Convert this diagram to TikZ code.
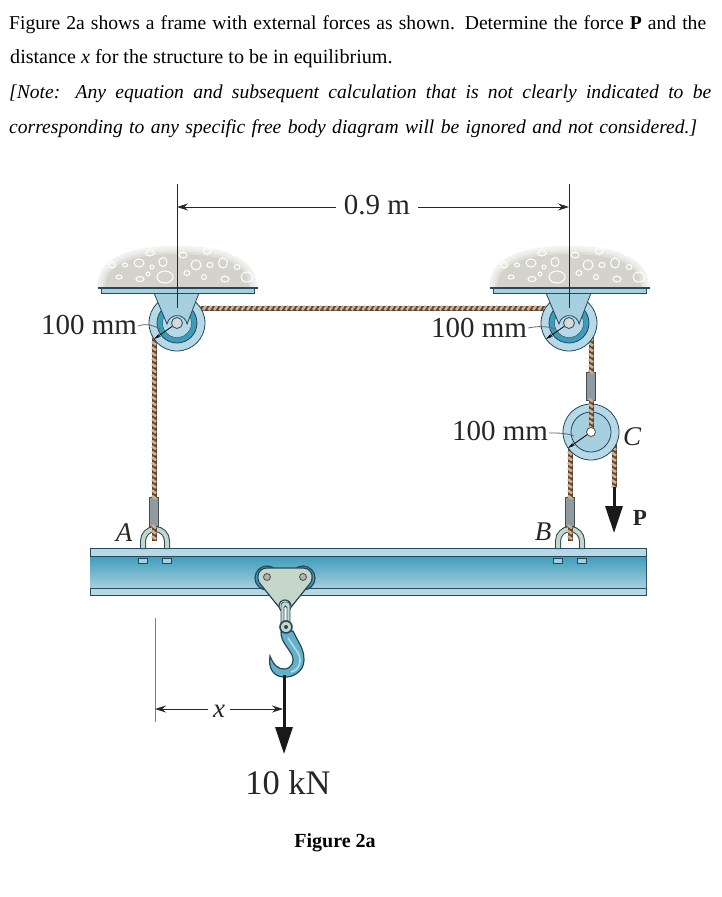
\documentclass[tikz,border=0pt]{standalone}
\usepackage{fontspec}
\setmainfont{Liberation Serif}
\usetikzlibrary{arrows.meta,decorations.markings}
\definecolor{ropetan}{HTML}{D2AE8C}
\definecolor{ropedark}{HTML}{5A4636}
\definecolor{steeldark}{HTML}{24495A}
\definecolor{steellight}{HTML}{B7D8E6}
\definecolor{steelmid}{HTML}{3E9CBB}
\definecolor{steelpale}{HTML}{A6CFDF}
\definecolor{gravel}{HTML}{D3D3CB}
\definecolor{plategreen}{HTML}{C6D6CB}
\definecolor{ferrulegray}{HTML}{8E9BA2}

\begin{document}
\begin{tikzpicture}
[x=1pt, y=-1pt,
bodytext/.style={anchor=west, inner sep=0, font=\fontsize{19.6}{21}\selectfont},
dimlabel/.style={inner sep=0, text=black!85, font=\fontsize{29}{30}\selectfont},
rope/.style={line width=5pt, draw=ropedark, postaction={decorate, decoration={markings, mark=between positions 0 and 1 step 5.5pt with {\draw[ropetan, line width=2.6pt] (-1.5pt,-2pt) -- (1.5pt,2pt);}}}},
wheel/.style={circle, draw=steeldark, thick, fill=steellight, minimum size=56pt, inner sep=0, outer sep=0},
groove/.style={circle, draw=steeldark, thick, fill=steelmid, minimum size=40pt, inner sep=0},
hub/.style={circle, draw=steeldark, thick, fill=black!15, minimum size=11pt, inner sep=0},
ferrule/.style={rectangle, draw=black!70, left color=ferrulegray, middle color=black!10, right color=ferrulegray, minimum width=9pt, minimum height=29pt, inner sep=0},
bolt/.style={rectangle, draw=steeldark, thick, fill=steelpale, minimum width=9pt, minimum height=5pt, inner sep=0},
pin/.style={circle, draw=black!70, fill=black!30, thick, minimum size=7pt, inner sep=0},
lobe/.style={circle, draw=steeldark, line width=1.2pt, fill=steelmid, minimum size=24pt, inner sep=0},
dimline/.style={draw=black!85, line width=0.8pt},
dimarrow/.style={-{Stealth[length=11pt, width=7pt]}, draw=black!85, line width=0.8pt},
leader/.style={draw=black!60, line width=0.8pt},
radial/.style={-{Stealth[length=7pt, width=3.5pt]}, draw=black, line width=0.8pt},
force/.style={-{Stealth[length=27pt, width=17pt, inset=0pt]}, draw=black!90, line width=3pt},
shackle/.style={draw=steeldark, line width=6pt},
shacklein/.style={draw=plategreen, line width=4pt}]

\useasboundingbox (0,0) rectangle (721,897);

\node[bodytext] (line1) at (9,24.5) {\makebox[697pt][s]{Figure 2a shows a frame with external forces as shown. Determine the force \textbf{P} and the}};
\node[bodytext, font=\fontsize{20.1}{21}\selectfont] (line2) at (10,58.5) {distance \textit{x} for the structure to be in equilibrium.};
\node[bodytext] (line3) at (9,93.5) {\makebox[702pt][s]{\textit{[Note: Any equation and subsequent calculation that is not clearly indicated to be}}};
\node[bodytext] (line4) at (9,128.5) {\makebox[688pt][s]{\textit{corresponding to any specific free body diagram will be ignored and not considered.]}}};

\coordinate (wheelAc) at (177,323);
\coordinate (wheelBc) at (569,323);
\coordinate (wheelCc) at (591,432);

\foreach \cx in {177,569}{
\fill[gravel] ({\cx-80},288) .. controls ({\cx-80},258) and ({\cx-50},246) .. (\cx,246) .. controls ({\cx+50},246) and ({\cx+80},258) .. ({\cx+80},288) -- cycle;
\foreach \lw in {16,11,7,3}
\draw[white, opacity=0.3, line width=\lw pt] ({\cx-80},288) .. controls ({\cx-80},258) and ({\cx-50},246) .. (\cx,246) .. controls ({\cx+50},246) and ({\cx+80},258) .. ({\cx+80},288);
\foreach \dx/\py/\rx/\ry in {-65/265/3.5/3,-52/265/2.5/2,-38/263/5/4,-25/267/2/2,-14/262/4/4.5,-12/277/8/6,-58/277/3/2,-37/279/4/2.5,-29/274/2/2,19/265/5/5,33/265/3/2.5,46/263/4.5/5,60/267/3/2.5,10/273/3/2.5,27/277/2.5/2.5,48/279/4/3,70/277/6/5,-27/253/4/3,6/255/4/3,30/251/4/3,58/253/4/3}
\draw[white, line width=1pt] ({\cx+\dx},\py) ellipse ({\rx} and {\ry});
}

\node[ferrule] (ferruleA) at (154,512) {};
\node[ferrule] (ferruleB) at (570,512) {};
\node[ferrule, minimum height=28pt] (ferruleC) at (591,386) {};

\draw[rope] (ferruleA.north) -- (ferruleA.north |- wheelAc);
\draw[rope] (177,308) -- (569,308);
\draw[rope] (ferruleC.north) -- (ferruleC.north |- wheelBc);
\draw[rope] (ferruleB.north) -- (ferruleB.north |- wheelCc);
\draw[rope] (614,432) -- (614,487) coordinate (forceP);

\foreach \cx/\nm in {177/A,569/B}{
\node[wheel] (wheel\nm) at (wheel\nm c) {};
\node[groove] (groove\nm) at (wheel\nm c) {};
\node[circle, draw=steeldark, fill=steellight, minimum size=29pt, inner sep=0] (inner\nm) at (wheel\nm c) {};
\draw[steeldark, fill=steelpale, thick] ({\cx-23},293) -- ({\cx-10},324) arc (190:350:10.2) -- ({\cx+22},293) -- cycle;
\node[hub] (hub\nm) at (wheel\nm c) {};
\draw[steeldark, fill=steeldark, thick] ({\cx-79},287) rectangle ({\cx+80},288.5);
\draw[steeldark, fill=steelpale, thick] ({\cx-76},288.5) rectangle ({\cx+77},293);
}
\node[wheel] (wheelC) at (wheelCc) {};
\node[circle, draw=steeldark, thick, fill=steelpale, minimum size=40pt, inner sep=0] (grooveC) at (wheelCc) {};
\draw[rope] (ferruleC.south) -- (wheelCc);
\node[circle, draw=ropedark, thick, fill=white, minimum size=9pt, inner sep=0] (hubC) at (wheelCc) {};

\draw[draw=steeldark, thick, fill=steellight] (90,548) rectangle (646,595);
\shade[top color=steelmid, bottom color=steelpale] (90,556) rectangle (646,588);
\draw[steeldark, thick] (90,556) -- (646,556);
\draw[steeldark, thick] (90,588) -- (646,588);

\foreach \sx/\nm in {155/A,570/B}{
\draw[shackle] ({\sx-12},549) -- ({\sx-12},541) arc (180:360:12) -- ({\sx+12},549);
\draw[shacklein] ({\sx-12},548) -- ({\sx-12},541) arc (180:360:12) -- ({\sx+12},548);
\draw[rope] (ferrule\nm.south) -- ++(0,14);
\node[bolt] (boltL\nm) at ({\sx-12},560.5) {};
\node[bolt] (boltR\nm) at ({\sx+12},560.5) {};
}

\node[lobe] (lobeL) at (267,578) {};
\node[lobe] (lobeR) at (303,578) {};
\draw[steeldark, line width=1.2pt, fill=plategreen] (267,568) -- (303,568) .. controls (313,568) and (315,580) .. (308,586) -- (292,606) .. controls (288,611) and (282,611) .. (278,606) -- (262,586) .. controls (255,580) and (257,568) .. (267,568) -- cycle;
\node[pin] (pinL) at (267,577) {};
\node[pin] (pinR) at (303,577) {};
\draw[steeldark, line width=1.2pt, fill=white] (285,606) circle (6);
\draw[steeldark, thick, fill=plategreen, rounded corners=3pt] (281,602) rectangle (290,628);
\draw[steeldark, thick, fill=white, rounded corners=1.5pt] (284,606) rectangle (287,625);
\draw[steeldark, line width=1.2pt, fill=steelmid!80] (293,631) .. controls (298,642) and (304,648) .. (304,660) .. controls (304,672) and (292,678) .. (283,677) .. controls (273,676) and (268,668) .. (270,656) .. controls (273,664) and (278,670) .. (285,669) .. controls (292,668) and (295,661) .. (292,655) .. controls (288,647) and (281,642) .. (281,632) -- cycle;
\draw[steellight, line width=1.6pt] (288,638) .. controls (294,648) and (301,654) .. (300,662) .. controls (299,668) and (295,671) .. (291,672);
\draw[steeldark, line width=1.6pt, fill=plategreen] (286,627) circle (6);
\node[circle, fill=steeldark, minimum size=4pt, inner sep=0] (eye) at (286,627) {};

\coordinate (loadTop) at (284,675);
\coordinate (loadTip) at (284,754);
\draw[force] (loadTop) -- (loadTip);
\draw[force] (forceP) -- (614,533);

\coordinate (dimAtop) at (177,184);
\coordinate (dimAbot) at (177,308);
\coordinate (dimBtop) at (569,184);
\coordinate (dimBbot) at (569,308);
\draw[dimline] (dimAtop) -- (dimAbot);
\draw[dimline] (dimBtop) -- (dimBbot);
\node[dimlabel] (span) at (377,205) {0.9 m};
\draw[dimarrow] (span.west) ++(-8,2) -- (177,207);
\draw[dimarrow] (span.east) ++(8,2) -- (569,207);

\coordinate (xTop) at (155,618);
\coordinate (xBot) at (155,722);
\draw[draw=black!50, line width=0.9pt] (xTop) -- (xBot);
\node[inner sep=0, font=\fontsize{27}{27}\selectfont\itshape, text=black!85] (xlabel) at (219,711) {x};
\draw[dimarrow] (xlabel.west) ++(-5,-2) -- (155,709);
\draw[dimarrow] (xlabel.east) ++(5,-2) -- (283,709);

\node[dimlabel] (radiusA) at (89,325) {100 mm};
\node[dimlabel] (radiusB) at (479,328) {100 mm};
\node[dimlabel] (radiusC) at (500,431) {100 mm};
\draw[leader] (radiusA.east) ++(1,1) .. controls (147,323) and (152,325) .. (160,329);
\draw[leader] (radiusB.east) ++(1,0) .. controls (538,326) and (546,326) .. (556,329);
\draw[leader] (radiusC.east) ++(1,2) .. controls (560,433) and (566,433) .. (574,436);
\draw[radial] (hubA) -- (wheelA.215);
\draw[radial] (hubB) -- (wheelB.215);
\draw[radial] (hubC) -- (wheelC.215);

\node[inner sep=0, font=\fontsize{27}{27}\selectfont\itshape, text=black!85] (labelA) at (124,533) {A};
\node[inner sep=0, font=\fontsize{27}{27}\selectfont\itshape, text=black!85] (labelB) at (543,532) {B};
\node[inner sep=0, font=\fontsize{27}{27}\selectfont\itshape, text=black!85] (labelC) at (632,437) {C};
\node[inner sep=0, font=\fontsize{23}{23}\selectfont\bfseries, text=black!85] (labelP) at (640,518) {P};
\node[inner sep=0, text=black!85, font=\fontsize{34.5}{35}\selectfont] (load) at (288,783) {10 kN};
\node[inner sep=0, font=\fontsize{20}{20}\selectfont\bfseries] (caption) at (335,843) {Figure 2a};

\end{tikzpicture}
\end{document}
